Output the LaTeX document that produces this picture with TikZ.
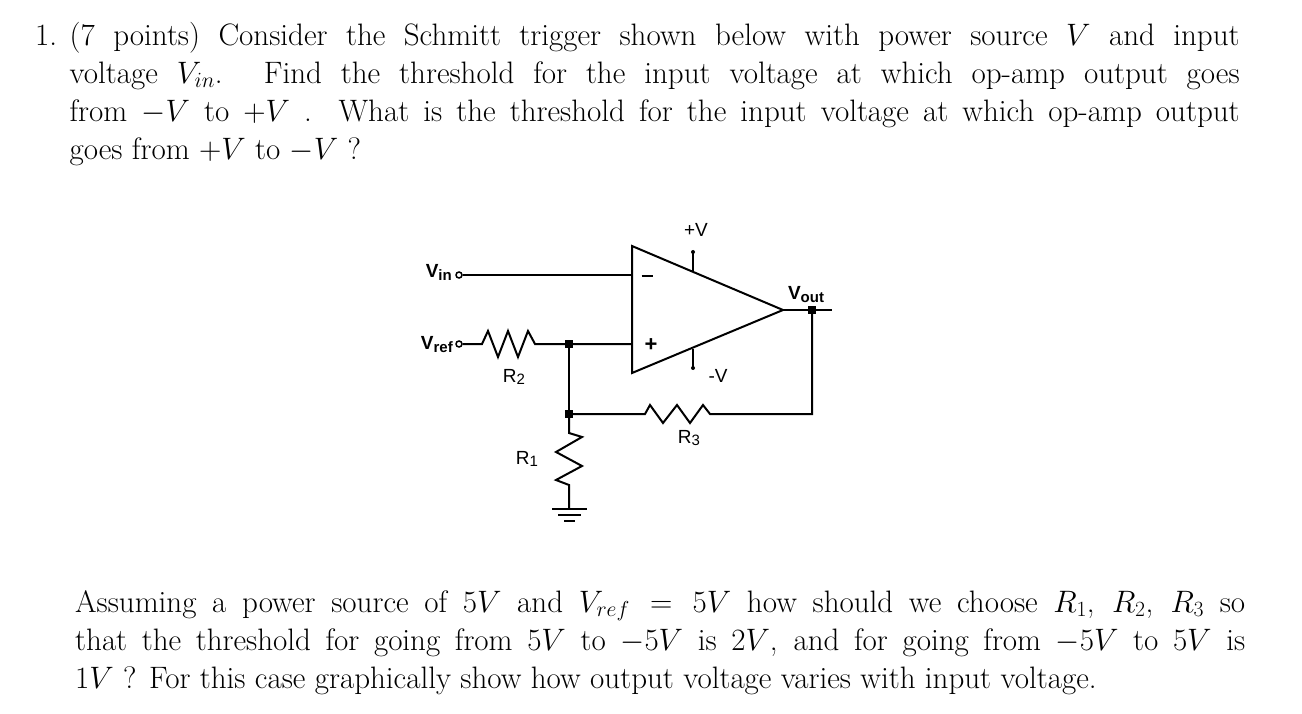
\RequirePackage{fix-cm}
\documentclass[tikz,border=0pt]{standalone}
\usepackage{fontspec}
\newfontfamily\cfont{Liberation Sans}
\usetikzlibrary{calc}
\begin{document}
\begin{tikzpicture}[x=1pt,y=-1pt,
  w/.style={line width=2pt},
  lab/.style={font=\cfont\fontsize{19}{19}\selectfont\bfseries, inner sep=0pt},
  plab/.style={font=\cfont\fontsize{19}{19}\selectfont, inner sep=0pt},
  term/.style={circle,draw,line width=1.5pt,inner sep=0pt,minimum size=6pt,fill=white},
  dot/.style={rectangle,fill=black,inner sep=0pt,minimum size=8pt}]
\useasboundingbox (0,0) rectangle (1302,714);
\node[anchor=north west,inner sep=0pt] (q) at (35,18) {\fontsize{31}{38.3}\selectfont
\begin{tabular}{@{}l@{ }p{1170pt}@{}}
1. & (7 points) Consider the Schmitt trigger shown below with power source $V$ and input\linebreak
voltage $V_{in}$. Find the threshold for the input voltage at which op-amp output goes\linebreak
from $-V$ to $+V$ . What is the threshold for the input voltage at which op-amp output\linebreak
goes from $+V$ to $-V$ ?
\end{tabular}};
\node[anchor=north west,inner sep=0pt] (a) at (75,590) {\fontsize{31}{38.3}\selectfont
\parbox{1170pt}{Assuming a power source of $5V$ and $V_{ref}=5V$ how should we choose $R_1$, $R_2$, $R_3$ so\linebreak
that the threshold for going from $5V$ to $-5V$ is $2V$, and for going from $-5V$ to $5V$ is\linebreak
$1V$ ? For this case graphically show how output voltage varies with input voltage.}};
% op-amp
\coordinate (tl) at (632,246); \coordinate (bl) at (632,373); \coordinate (ap) at (783,310);
\draw[w,line join=miter] (tl) -- (ap) -- (bl) -- cycle;
\node[inner sep=0pt] (mi) at (647,276) {\rule{11pt}{2pt}};
\node[lab,font=\cfont\fontsize{22}{22}\selectfont\bfseries] (pl) at (651,345) {+};
% supplies
\coordinate (pv1) at (693,252); \coordinate (pv2) at (693,272);
\draw[line width=1.5pt] (pv1) -- (pv2); \fill (pv1) circle (2pt);
\node[plab] (pvl) at (696,230) {+V};
\coordinate (mv1) at (693,349); \coordinate (mv2) at (693,368);
\draw[line width=1.5pt] (mv1) -- (mv2); \fill (mv2) circle (2pt);
\node[plab] (mvl) at (718,376) {-V};
% Vin
\node[term] (vin) at (459,275) {};
\node[lab,anchor=east] (vinl) at (452,272) {V\raisebox{-3pt}{\fontsize{15}{15}\selectfont in}};
\draw[w] (vin) -- (632,275);
% Vref
\node[term] (vref) at (459,344) {};
\node[lab,anchor=east] (vrefl) at (453,345) {V\raisebox{-3pt}{\fontsize{15}{15}\selectfont ref}};
\node[dot] (n1) at (569,344) {};
\node[dot] (n2) at (569,414) {};
\node[dot] (no) at (812,310) {};
\draw[w] (vref) -- (482,344) -- (488,331) -- (498,357) -- (508,331) -- (518,357) -- (528,331) -- (535,344) -- (n1) -- (632,344);
\node[plab] (r2) at (514,377) {R\raisebox{-2pt}{\fontsize{15}{15}\selectfont 2}};
\draw[w] (n1) -- (n2);
\draw[w] (n2) -- (645,414) -- (650,405) -- (663,423) -- (677,405) -- (690,423) -- (703,405) -- (710,414) -- (812,414) -- (no);
\draw[w] (ap) -- (no) -- (832,310);
\node[lab,anchor=south] (vout) at (806,303) {V\raisebox{-3pt}{\fontsize{15}{15}\selectfont out}};
\node[plab] (r3) at (689,438) {R\raisebox{-2pt}{\fontsize{15}{15}\selectfont 3}};
% R1 + ground
\draw[w] (n2) -- (569,433) -- (582,437) -- (556,452) -- (582,466) -- (556,480) -- (569,485) -- (569,509);
\node[plab] (r1) at (527,459) {R\raisebox{-2pt}{\fontsize{15}{15}\selectfont 1}};
\draw[w] (552,509) -- (587,509);
\draw[w] (558,515) -- (581,515);
\draw[w] (564,521) -- (575,521);
\end{tikzpicture}
\end{document}
